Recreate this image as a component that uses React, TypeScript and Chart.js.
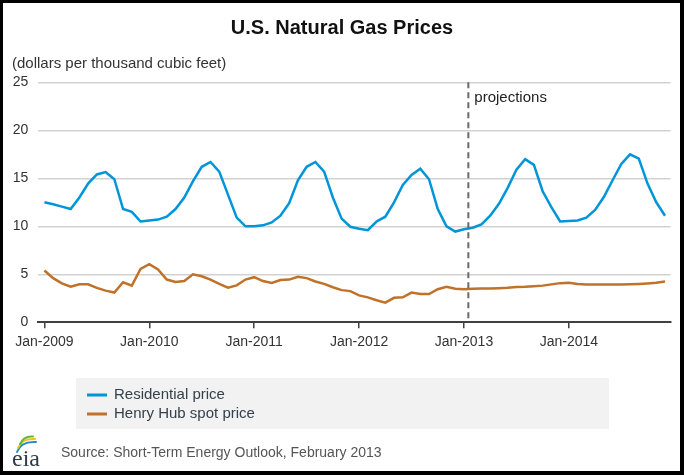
import { useEffect, useRef } from "react";
import { Chart, registerables } from "chart.js";

Chart.register(...registerables);

// Monthly prices, Jan-2009 through Dec-2014 (dollars per thousand cubic feet)
const residentialPrice = [
  12.5, 12.3, 12.05, 11.8, 13.0, 14.45, 15.4, 15.65, 14.9, 11.8, 11.5, 10.5,
  10.6, 10.7, 11.0, 11.8, 13.0, 14.7, 16.2, 16.7, 15.7, 13.3, 10.9, 10.0,
  10.0, 10.1, 10.4, 11.1, 12.4, 14.8, 16.2, 16.7, 15.7, 13.0, 10.8, 9.95,
  9.75, 9.6, 10.5, 11.0, 12.5, 14.3, 15.35, 16.0, 14.9, 11.8, 10.0, 9.45,
  9.7, 9.85, 10.2, 11.1, 12.35, 14.0, 15.9, 17.0, 16.4, 13.65, 12.0, 10.5,
  10.55, 10.6, 10.9, 11.7, 13.05, 14.8, 16.5, 17.5, 17.05, 14.45, 12.5, 11.1,
];

const henryHubPrice = [
  5.4, 4.6, 4.05, 3.7, 3.96, 3.96, 3.58, 3.3, 3.1, 4.17, 3.82, 5.55,
  6.05, 5.5, 4.45, 4.2, 4.3, 5.0, 4.8, 4.45, 4.0, 3.6, 3.85, 4.45,
  4.7, 4.3, 4.1, 4.4, 4.45, 4.75, 4.6, 4.25, 4.0, 3.65, 3.35, 3.25,
  2.8, 2.6, 2.3, 2.05, 2.55, 2.6, 3.1, 2.95, 2.95, 3.45, 3.7, 3.5,
  3.45, 3.5, 3.52, 3.52, 3.55, 3.6, 3.68, 3.7, 3.75, 3.82, 3.95, 4.08,
  4.12, 4.0, 3.93, 3.93, 3.95, 3.93, 3.95, 3.97, 4.0, 4.05, 4.12, 4.25,
];

// Year tick labels, placed every 12 months from the first month
const yearLabels = ["Jan-2009", "Jan-2010", "Jan-2011", "Jan-2012", "Jan-2013", "Jan-2014"];
const yTicks = [0, 5, 10, 15, 20, 25];

const seriesNames = ["Residential price", "Henry Hub spot price"];
const seriesColors = ["#0095d8", "#bf7228"];

// Month index where the forecast period begins
const projectionStart = 48.5;

const FONT = "'Liberation Sans', Arial, Helvetica, sans-serif";

export default function App() {
  const canvasRef = useRef<HTMLCanvasElement>(null);

  useEffect(() => {
    document.body.style.margin = "0";
    const canvas = canvasRef.current;
    if (!canvas) return;

    const decor = {
      id: "decor",
      beforeDraw(chart: any) {
        const { ctx, width, height } = chart;
        ctx.save();
        ctx.fillStyle = "#000";
        ctx.fillRect(0, 0, width, height);
        ctx.fillStyle = "#fff";
        ctx.fillRect(3, 3, width - 7, height - 7);
        ctx.restore();
      },
      afterDatasetsDraw(chart: any) {
        const { ctx, chartArea, scales } = chart;
        const x = scales.x.getPixelForValue(projectionStart);
        ctx.save();
        ctx.strokeStyle = "#6a6a6a";
        ctx.lineWidth = 2;
        ctx.setLineDash([6, 4]);
        ctx.beginPath();
        ctx.moveTo(x, chartArea.top);
        ctx.lineTo(x, chartArea.bottom);
        ctx.stroke();
        ctx.setLineDash([]);
        ctx.fillStyle = "#222";
        ctx.font = `15px ${FONT}`;
        ctx.textAlign = "left";
        ctx.textBaseline = "middle";
        ctx.fillText("projections", x + 6, chartArea.top + 16);
        ctx.restore();
      },
      afterDraw(chart: any) {
        const { ctx } = chart;
        ctx.save();
        // Title and unit line
        ctx.fillStyle = "#111";
        ctx.font = `bold 20px ${FONT}`;
        ctx.textAlign = "center";
        ctx.textBaseline = "middle";
        ctx.fillText("U.S. Natural Gas Prices", 342, 28);
        ctx.fillStyle = "#333";
        ctx.font = `15px ${FONT}`;
        ctx.textAlign = "left";
        ctx.fillText("(dollars per thousand cubic feet)", 12, 64);

        // Legend panel
        ctx.fillStyle = "#f2f2f2";
        ctx.fillRect(76, 378, 533, 51);
        chart.data.datasets.forEach((ds: any, i: number) => {
          const y = 395 + i * 19;
          ctx.strokeStyle = ds.borderColor;
          ctx.lineWidth = 3;
          ctx.beginPath();
          ctx.moveTo(87, y);
          ctx.lineTo(107, y);
          ctx.stroke();
          ctx.fillStyle = "#34404c";
          ctx.font = `15px ${FONT}`;
          ctx.textBaseline = "middle";
          ctx.fillText(ds.label, 114, y);
        });

        // Footer logo: three swooshes over the lettering
        ctx.lineCap = "round";
        const swooshes = [
          { c: "#1d8fd6", x0: 17, y0: 452, x1: 36, y1: 442 },
          { c: "#f2c418", x0: 18, y0: 448, x1: 35, y1: 439 },
          { c: "#6db33f", x0: 20, y0: 444, x1: 33, y1: 436.5 },
        ];
        swooshes.forEach((s) => {
          ctx.strokeStyle = s.c;
          ctx.lineWidth = 2;
          ctx.beginPath();
          ctx.moveTo(s.x0, s.y0);
          ctx.quadraticCurveTo(s.x0 + 4, s.y1 - 1, s.x1, s.y1);
          ctx.stroke();
        });
        ctx.fillStyle = "#2f3b48";
        ctx.font = `24px 'Liberation Serif', 'DejaVu Serif', serif`;
        ctx.textBaseline = "alphabetic";
        ctx.fillText("eia", 12, 466);
        ctx.fillStyle = "#555";
        ctx.font = `14px ${FONT}`;
        ctx.textBaseline = "middle";
        ctx.fillText("Source: Short-Term Energy Outlook, February 2013", 61, 453);
        ctx.restore();
      },
    };

    const chart = new Chart(canvas, {
      type: "line",
      data: {
        datasets: [
          {
            label: seriesNames[0],
            data: residentialPrice.map((v, i) => ({ x: i, y: v })),
            borderColor: seriesColors[0],
            backgroundColor: seriesColors[0],
            borderWidth: 2.5,
            pointRadius: 0,
            tension: 0,
          },
          {
            label: seriesNames[1],
            data: henryHubPrice.map((v, i) => ({ x: i, y: v })),
            borderColor: seriesColors[1],
            backgroundColor: seriesColors[1],
            borderWidth: 2.5,
            pointRadius: 0,
            tension: 0,
          },
        ],
      },
      options: {
        responsive: false,
        animation: false,
        devicePixelRatio: 1,
        layout: { padding: { left: 8.3, top: 82.3, right: 13.3, bottom: 122.7 } },
        plugins: {
          legend: { display: false },
          tooltip: { enabled: false },
          title: { display: false },
        },
        scales: {
          x: {
            type: "linear",
            min: -0.7,
            max: 71.65,
            afterFit(scale: any) {
              scale.height = 30;
            },
            afterBuildTicks(scale: any) {
              scale.ticks = yearLabels.map((_, i) => ({ value: i * 12 }));
            },
            ticks: {
              autoSkip: false,
              maxRotation: 0,
              padding: 5,
              color: "#333",
              font: { family: FONT, size: 14 },
              callback: (v: any) => yearLabels[Math.round(Number(v) / 12)] ?? "",
            },
            grid: {
              drawOnChartArea: false,
              drawTicks: true,
              tickLength: 6,
              color: "#404040",
              lineWidth: 1.5,
            },
            border: { display: true, color: "#404040", width: 2 },
          },
          y: {
            min: 0,
            max: 25,
            afterFit(scale: any) {
              scale.width = 30;
            },
            afterBuildTicks(scale: any) {
              scale.ticks = yTicks.map((v) => ({ value: v }));
            },
            ticks: {
              padding: 10,
              color: "#333",
              font: { family: FONT, size: 14 },
            },
            grid: {
              drawTicks: false,
              color: (c: any) => (c.tick && c.tick.value === 0 ? "rgba(0,0,0,0)" : "#d2d2d2"),
              lineWidth: 1.5,
            },
            border: { display: false },
          },
        },
      },
      plugins: [decor],
    });

    return () => chart.destroy();
  }, []);

  return (
    <div style={{ position: "absolute", left: 0, top: 0, width: 684, height: 475 }}>
      <canvas ref={canvasRef} width={684} height={475} style={{ display: "block" }} />
    </div>
  );
}
